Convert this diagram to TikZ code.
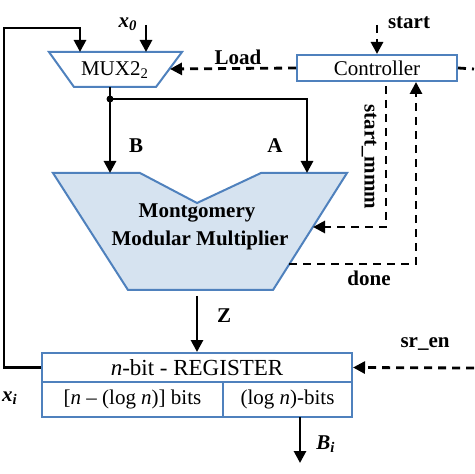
\documentclass[tikz,border=0pt]{standalone}
\usepackage{fontspec}
\setmainfont{Liberation Serif}
\usetikzlibrary{arrows.meta}
\definecolor{edgeblue}{RGB}{79,129,189}
\definecolor{fillblue}{RGB}{214,227,240}
\tikzset{
  wire/.style={line width=1.4pt},
  ctrlwire/.style={line width=1.4pt,dash pattern=on 4pt off 3pt},
  tip/.style={-{Triangle[length=6pt,width=6pt]}},
  blk/.style={draw=edgeblue,line width=1pt},
  box/.style={blk,inner sep=0pt,font=\fontsize{10.5}{12}\selectfont},
  lbl/.style={font=\fontsize{10.5}{12}\selectfont\bfseries}
}
\begin{document}
\begin{tikzpicture}[x=0.5pt,y=-0.5pt]
\useasboundingbox (0,0) rectangle (474,474);

\draw[blk] (49,52) -- (182,52) -- (156,87) -- (74,87) -- cycle;
\node[font=\fontsize{10.5}{12}\selectfont] (mux) at (115,70) {MUX2\textsubscript{2}};
\coordinate (muxfb) at (80,52);
\coordinate (muxx) at (146,52);
\coordinate (muxload) at (170,69);
\coordinate (muxout) at (110,87);

\node[box,minimum width=80pt,minimum height=13pt] (ctrl) at (377,68) {Controller};

\draw[blk,fill=fillblue] (53,173) -- (140,173) -- (197,203) -- (261,173) -- (347,173)
  -- (273,290) -- (128,290) -- cycle;
\node[lbl] (mmm1) at (197,213) {Montgomery};
\node[lbl] (mmm2) at (200,240) {Modular Multiplier};
\coordinate (mmmB) at (110,173);
\coordinate (mmmA) at (307,173);
\coordinate (mmmstart) at (313,227);
\coordinate (mmmdone) at (289,264);
\coordinate (mmmZ) at (197,296);

\node[box,minimum width=155pt,minimum height=14.5pt,font=\fontsize{11.5}{13}\selectfont] (reg) at (197,367.5) {\textit{n}-bit - REGISTER};
\node[box,minimum width=90.5pt,minimum height=17.5pt] (lowbits) at (132.5,399.5) {[\textit{n} – (log \textit{n})] bits};
\node[box,minimum width=64.5pt,minimum height=17.5pt] (hibits) at (287.5,399.5) {(log \textit{n})-bits};
\coordinate (bout) at (300,417);
\coordinate (bend) at (300,463);

\coordinate (xtop) at (146,25);
\coordinate (starttop) at (377,25);
\coordinate (ctrlright) at (474,69);
\coordinate (srin) at (474,368);
\coordinate (dot) at (110,99);
\coordinate (startout) at (386,86);
\coordinate (donein) at (416,82);

\draw[wire,tip] (reg.west) -| (4,28) -| (muxfb);
\draw[wire,tip] (xtop) -- (muxx);
\draw[ctrlwire,tip] (ctrl.west) -- (muxload);
\draw[ctrlwire,tip] (starttop) -- (ctrl.north);
\draw[ctrlwire] (ctrl.east) -- (ctrlright);
\draw[wire] (muxout) -- (dot);
\draw[wire,tip] (dot) -- (mmmB);
\draw[wire,tip] (dot) -| (mmmA);
\fill (dot) circle (3.5);
\draw[ctrlwire,tip] (startout) |- (mmmstart);
\draw[ctrlwire,tip] (mmmdone) -| (donein);
\draw[wire,tip] (mmmZ) -- (reg.north);
\draw[ctrlwire,tip] (srin) -- (reg.east);
\draw[wire,tip] (bout) -- (bend);

\node[lbl] (lx0) at (128,24) {\textit{x\textsubscript{0}}};
\node[lbl] (lstart) at (409,23) {start};
\node[lbl] (lload) at (238,57) {Load};
\node[lbl,rotate=-90] (lsmmm) at (369,157) {start\_mmm};
\node[lbl] (lB) at (136,146) {B};
\node[lbl] (lA) at (275,146) {A};
\node[lbl] (ldone) at (369,278) {done};
\node[lbl] (lZ) at (224,316) {Z};
\node[lbl] (lsren) at (425,344) {sr\_en};
\node[lbl] (lxi) at (10,398) {\textit{x\textsubscript{i}}};
\node[lbl] (lBi) at (326,444) {\textit{B\textsubscript{i}}};
\end{tikzpicture}
\end{document}
